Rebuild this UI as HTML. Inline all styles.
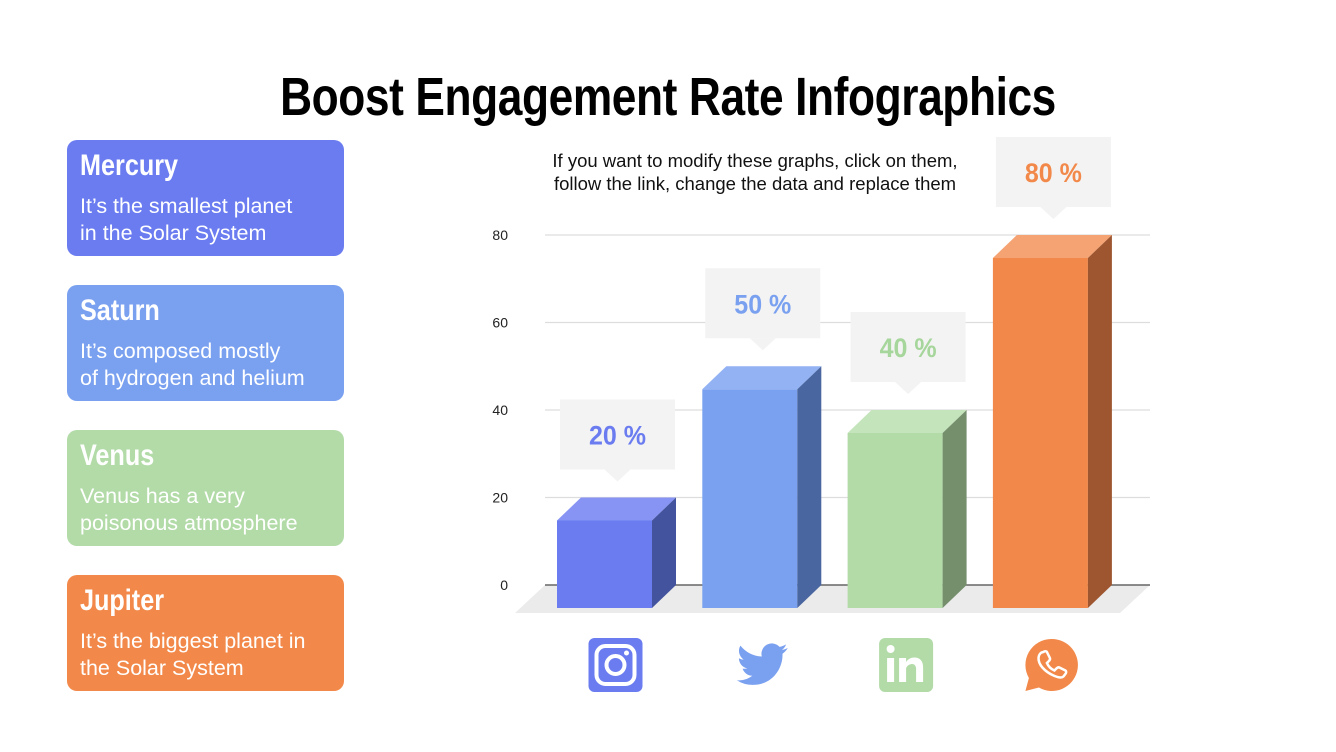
<!DOCTYPE html>
<html><head><meta charset="utf-8"><style>
body{margin:0;width:1336px;height:752px;background:#fff;position:relative;overflow:hidden;font-family:"Liberation Sans",sans-serif}
.title{position:absolute;left:0;width:1336px;top:66px;text-align:center;font-weight:bold;font-size:54px;color:#000;letter-spacing:-0.5px;transform:scaleX(0.82);transform-origin:668px 0}
.card{position:absolute;left:67px;width:277px;height:116px;border-radius:10px;color:#fff}
.card h3{margin:0;position:absolute;left:13px;top:9px;font-size:30px;font-weight:bold;transform:scaleX(0.84);transform-origin:0 0;white-space:nowrap}
.card p{margin:0;position:absolute;left:13px;top:53px;font-size:21.5px;line-height:27px;white-space:nowrap}
.note{position:absolute;left:500px;width:510px;top:149px;text-align:center;font-size:18.5px;line-height:23px;color:#111}
</style></head><body>
<div class="title">Boost Engagement Rate Infographics</div>
<div class="card" style="top:140px;background:#6a7cf0"><h3>Mercury</h3><p>It’s the smallest planet<br>in the Solar System</p></div>
<div class="card" style="top:285px;background:#7aa0f0"><h3>Saturn</h3><p>It’s composed mostly<br>of hydrogen and helium</p></div>
<div class="card" style="top:430px;background:#b2dba8"><h3>Venus</h3><p>Venus has a very<br>poisonous atmosphere</p></div>
<div class="card" style="top:575px;background:#f2894a"><h3>Jupiter</h3><p>It’s the biggest planet in<br>the Solar System</p></div>
<div class="note">If you want to modify these graphs, click on them,<br>follow the link, change the data and replace them</div>
<svg id="chart" width="1336" height="752" style="position:absolute;left:0;top:0"></svg>
<script>
const categories=["Instagram","Twitter","LinkedIn","WhatsApp"];
const values=[20,50,40,80];
const labels=["20 %","50 %","40 %","80 %"];
const ticks=[0,20,40,60,80];
const NS="http://www.w3.org/2000/svg";
const svg=document.getElementById("chart");
function y(v){return 585-v*4.375;}
function mk(t,a,parent){const e=document.createElementNS(NS,t);for(const k in a)e.setAttribute(k,a[k]);(parent||svg).appendChild(e);return e;}
const front=["#6a7cf0","#7aa0f0","#b2dba8","#f2894a"];
const top_=["#8794f3","#92b2f3","#c4e4bb","#f5a373"];
const side=["#43539e","#4a66a0","#758f6d","#9e5630"];
const lcol=["#6a7cf0","#7aa0f0","#a6d69b","#f2894a"];
const D=24,DY=23,W=95;
function bx(i){return 557+i*145.3;}
let fl=mk("polygon",{points:"515,613 1120,613 1150,585 545,585",fill:"#ebebeb"});


ticks.forEach(t=>{
 let l=mk("line",{x1:545,x2:1150,y1:y(t),y2:y(t),stroke:t===0?"#666":"#ddd","stroke-width":t===0?1.5:1.2});
 
 
 let tx=mk("text",{x:508,y:y(t)+5,"text-anchor":"end","font-size":"14","fill":"#222","font-family":"Liberation Sans, sans-serif"});
 tx.textContent=t;
 
 
});
values.forEach((v,i)=>{
 const x=bx(i),bt=y(v),ft=bt+DY,fb=608;
 const g=mk("g",{});
 
 
 mk("rect",{x:x,y:ft,width:W,height:fb-ft,fill:front[i]},g);
 mk("polygon",{points:`${x},${ft} ${x+D},${bt} ${x+W+D},${bt} ${x+W},${ft}`,fill:top_[i]},g);
 mk("polygon",{points:`${x+W},${ft} ${x+W+D},${bt} ${x+W+D},${fb-DY} ${x+W},${fb}`,fill:side[i]},g);
 const cb=bt-28,cx=x+3,cw=115;
 const c=mk("g",{});
 
 
 mk("rect",{x:cx,y:cb-70,width:cw,height:70,fill:"#f3f3f3"},c);
 mk("polygon",{points:`${cx+cw/2-13},${cb} ${cx+cw/2+13},${cb} ${cx+cw/2},${cb+12}`,fill:"#f3f3f3"},c);
 const t=mk("text",{x:cx+cw/2,y:cb-25,"text-anchor":"middle","font-size":"27","font-weight":"bold",fill:lcol[i],"font-family":"Liberation Sans, sans-serif",textLength:"57",lengthAdjust:"spacingAndGlyphs"},c);
 t.textContent=labels[i];
});
function icon(i,html){const g=mk("g",{transform:`translate(${bx(i)+W/2-27+11},638)`});g.innerHTML=html;
 
 }
icon(0,'<rect x="0" y="0" width="54" height="54" rx="6" fill="#6a7cf0"/><rect x="8" y="8" width="38" height="38" rx="9" fill="none" stroke="#fff" stroke-width="4"/><circle cx="27" cy="27" r="9" fill="none" stroke="#fff" stroke-width="4"/><circle cx="38" cy="15" r="2.5" fill="#fff"/>');
icon(1,'<path d="M54 10c-2 1-4 1.5-6 2 2-1.3 3.6-3.3 4.3-5.6-2 1.2-4.2 2-6.5 2.5A10.4 10.4 0 0 0 28 18.5 29.6 29.6 0 0 1 6.6 7.6a10.4 10.4 0 0 0 3.2 13.9c-1.7 0-3.3-.5-4.7-1.3 0 5 3.6 9.2 8.4 10.2-1.5.4-3.1.5-4.7.2 1.3 4.1 5.2 7.1 9.7 7.2A21 21 0 0 1 3 42.2a29.5 29.5 0 0 0 16 4.7c19.2 0 29.7-15.9 29.7-29.7v-1.4c2-1.4 3.8-3.3 5.3-5.8z" fill="#7aa0f0"/>');
icon(2,'<rect x="0" y="0" width="54" height="54" rx="6" fill="#b2dba8"/><rect x="8" y="20" width="7" height="24" fill="#fff"/><circle cx="11.5" cy="11" r="4" fill="#fff"/><path d="M20 20h7v4c2-3 5-4.5 8-4.5 6 0 9 3.5 9 10V44h-7V31c0-3-1.5-5-4-5s-6 2-6 5v13h-7z" fill="#fff"/>');
icon(3,'<path d="M27 1a26 26 0 0 0-22.5 39L1 53l13.5-3.5A26 26 0 1 0 27 1z" fill="#f2894a"/><path d="M19 14c1-1 3-1 3.5 0l3 6c.5 1 0 2-1 3l-2 2c1.5 3.5 4 6 7.5 7.5l2-2c1-1 2-1.5 3-1l6 3c1 .5 1 2.5 0 3.5l-2 2.5c-3 3-15 -2-21-9s-4-13-1-15z" fill="none" stroke="#fff" stroke-width="2.5"/>');
</script>
</body></html>
